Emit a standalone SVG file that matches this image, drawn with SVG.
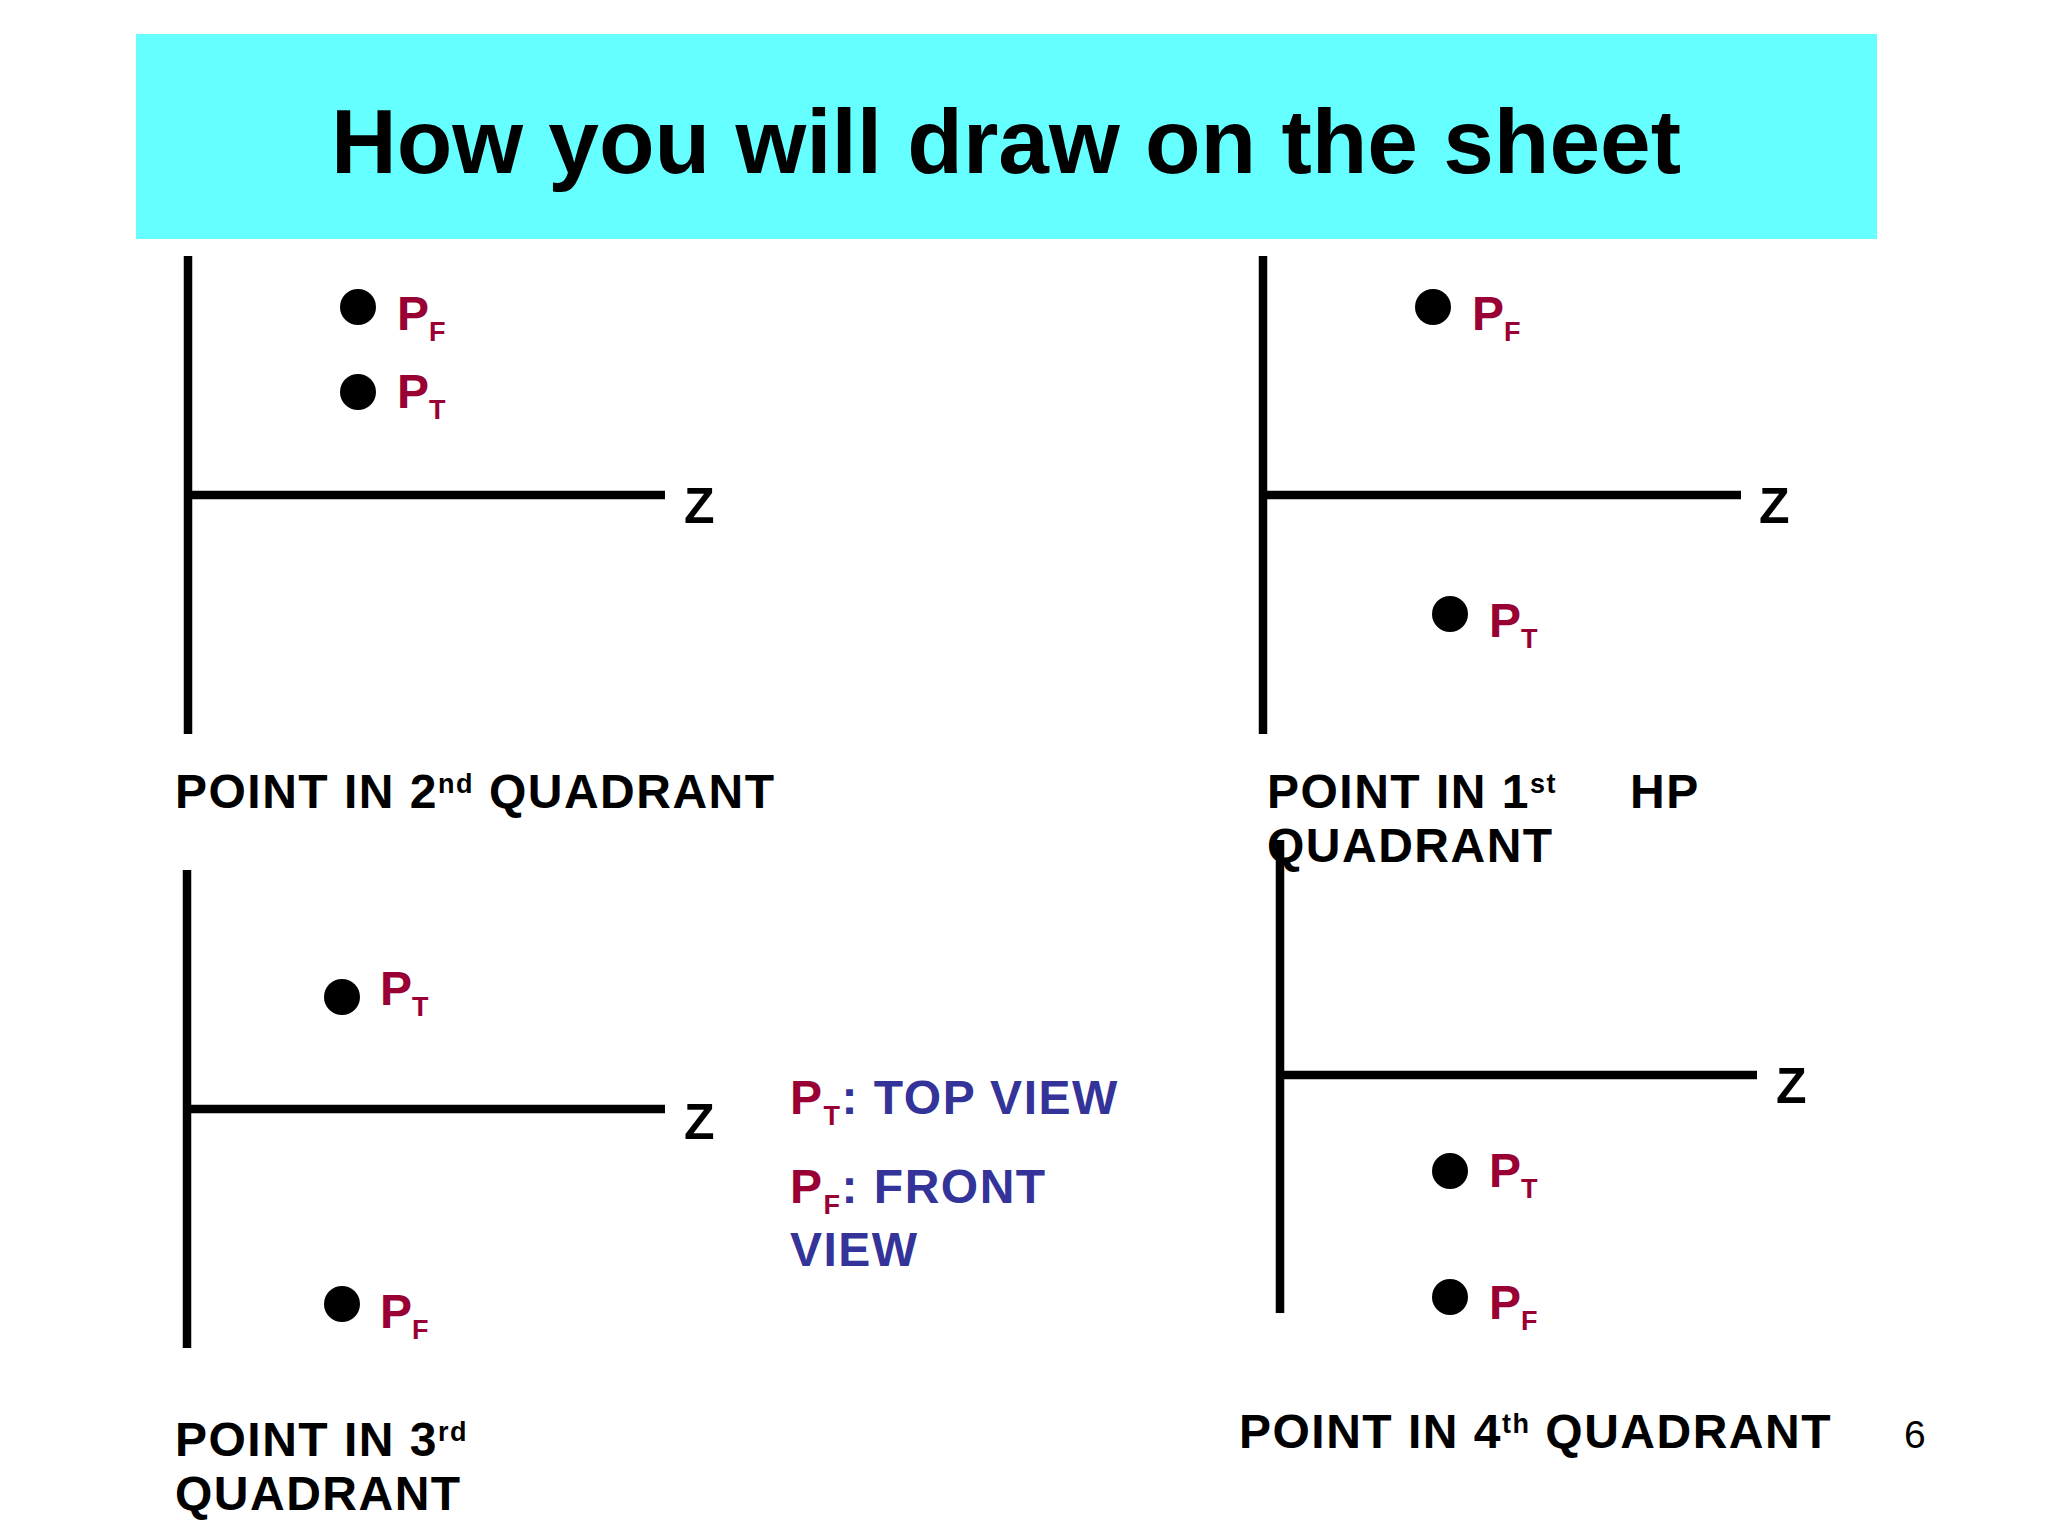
<svg xmlns="http://www.w3.org/2000/svg" width="2048" height="1536" viewBox="0 0 2048 1536">
<style>
.ax{stroke:#000;stroke-width:8.5;fill:none}
.dot{fill:#000}
.z{font-family:"Liberation Sans",Arial,sans-serif;font-weight:bold;font-size:50px;fill:#000}
.p{font-family:"Liberation Sans",Arial,sans-serif;font-weight:bold;font-size:48px;fill:#990033}
.sub{font-size:27px}
.lbl{font-family:"Liberation Sans",Arial,sans-serif;font-weight:bold;font-size:48px;letter-spacing:1.5px;fill:#000}
.sup{font-size:27px}
.leg{font-family:"Liberation Sans",Arial,sans-serif;font-weight:bold;font-size:48px;letter-spacing:1.5px;fill:#333399}
.red{fill:#990033}
</style>
<rect width="2048" height="1536" fill="#ffffff"/>
<g id="banner">
<rect x="136" y="34" width="1741" height="205" fill="#66FFFF"/>
<text x="1006" y="173" text-anchor="middle" font-family="Liberation Sans, Arial, sans-serif" font-weight="bold" font-size="91" fill="#000">How you will draw on the sheet</text>
</g>
<g id="connectors">
<line class="ax" x1="188" y1="256" x2="188" y2="734"/>
<line class="ax" x1="188" y1="495" x2="665" y2="495"/>
<line class="ax" x1="1263" y1="256" x2="1263" y2="734"/>
<line class="ax" x1="1263" y1="495" x2="1741" y2="495"/>
<line class="ax" x1="187" y1="870" x2="187" y2="1348"/>
<line class="ax" x1="187" y1="1109" x2="665" y2="1109"/>
<line class="ax" x1="1280" y1="840" x2="1280" y2="1313"/>
<line class="ax" x1="1280" y1="1075" x2="1757" y2="1075"/>
</g>
<g id="q2">
<text class="z" x="684" y="523">Z</text>
<circle class="dot" cx="358" cy="307" r="18"/>
<text class="p" x="397" y="330">P<tspan class="sub" dy="11">F</tspan></text>
<circle class="dot" cx="358" cy="392" r="18"/>
<text class="p" x="397" y="408">P<tspan class="sub" dy="11">T</tspan></text>
<text class="lbl" x="175" y="808">POINT IN 2<tspan class="sup" dy="-15">nd</tspan><tspan dy="15"> QUADRANT</tspan></text>
</g>
<g id="q1">
<text class="z" x="1759" y="523">Z</text>
<circle class="dot" cx="1433" cy="307" r="18"/>
<text class="p" x="1472" y="330">P<tspan class="sub" dy="11">F</tspan></text>
<circle class="dot" cx="1450" cy="614" r="18"/>
<text class="p" x="1489" y="637">P<tspan class="sub" dy="11">T</tspan></text>
<text class="lbl" x="1267" y="808">POINT IN 1<tspan class="sup" dy="-15">st</tspan><tspan x="1630" dy="15">HP</tspan></text>
<text class="lbl" x="1267" y="862">QUADRANT</text>
</g>
<g id="q3">
<text class="z" x="684" y="1139">Z</text>
<circle class="dot" cx="342" cy="997" r="18"/>
<text class="p" x="380" y="1005">P<tspan class="sub" dy="11">T</tspan></text>
<circle class="dot" cx="342" cy="1304" r="18"/>
<text class="p" x="380" y="1328">P<tspan class="sub" dy="11">F</tspan></text>
<text class="lbl" x="175" y="1456">POINT IN 3<tspan class="sup" dy="-15">rd</tspan></text>
<text class="lbl" x="175" y="1510">QUADRANT</text>
</g>
<g id="q4">
<text class="z" x="1776" y="1103">Z</text>
<circle class="dot" cx="1450" cy="1171" r="18"/>
<text class="p" x="1489" y="1187">P<tspan class="sub" dy="11">T</tspan></text>
<circle class="dot" cx="1450" cy="1297" r="18"/>
<text class="p" x="1489" y="1319">P<tspan class="sub" dy="11">F</tspan></text>
<text class="lbl" x="1239" y="1448">POINT IN 4<tspan class="sup" dy="-15">th</tspan><tspan dy="15"> QUADRANT</tspan></text>
</g>
<g id="legend">
<text class="leg" x="790" y="1114"><tspan class="red">P</tspan><tspan class="red sub" dy="11">T</tspan><tspan dy="-11">: TOP VIEW</tspan></text>
<text class="leg" x="790" y="1203"><tspan class="red">P</tspan><tspan class="red sub" dy="11">F</tspan><tspan dy="-11">: FRONT</tspan></text>
<text class="leg" x="790" y="1266">VIEW</text>
</g>
<g id="page-number">
<text x="1904" y="1448" font-family="Liberation Sans, Arial, sans-serif" font-size="39" fill="#000">6</text>
</g>
</svg>
